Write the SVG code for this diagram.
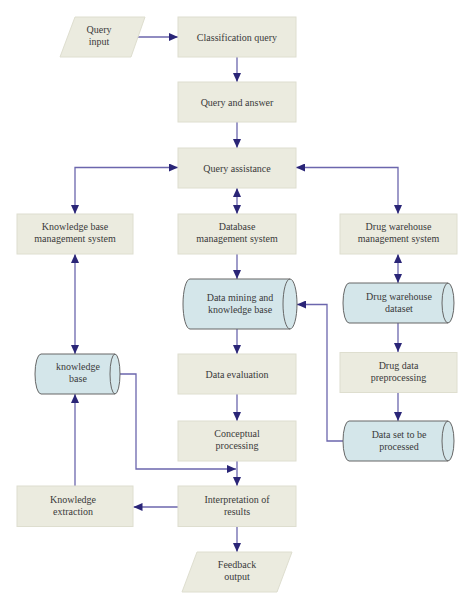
<svg xmlns="http://www.w3.org/2000/svg" width="474" height="609" viewBox="0 0 474 609">
<defs>
<marker id="ah" viewBox="0 0 9 8" refX="9" refY="4" markerWidth="9" markerHeight="8" markerUnits="userSpaceOnUse" orient="auto-start-reverse">
<path d="M0,0 L9,4 L0,8 Z" fill="#2a2577"/>
</marker>
</defs>
<style>
.box{fill:#ebebdf;stroke:#dedecf;stroke-width:1}
.cyl{fill:#d4e6ea;stroke:#666;stroke-width:1}
.cin{fill:none;stroke:#666;stroke-width:1}
text{font-family:"Liberation Serif","Times New Roman",serif;font-size:10px;fill:#3a3a3a;text-anchor:middle}
.c path{fill:none;stroke:#6b66ad;stroke-width:1.3}
</style>
<rect width="474" height="609" fill="#fff"/>
<g class="c" id="connectors">
<path d="M137,37 H178" marker-end="url(#ah)"/>
<path d="M237,57 V82" marker-end="url(#ah)"/>
<path d="M237,122 V148" marker-end="url(#ah)"/>
<path d="M237,214 V188" marker-start="url(#ah)" marker-end="url(#ah)"/>
<path d="M75,214 V167.5 H178" marker-start="url(#ah)" marker-end="url(#ah)"/>
<path d="M398,214 V167.5 H296" marker-start="url(#ah)" marker-end="url(#ah)"/>
<path d="M75,254 V354" marker-start="url(#ah)" marker-end="url(#ah)"/>
<path d="M237,254 V279" marker-end="url(#ah)"/>
<path d="M398,254 V283" marker-start="url(#ah)" marker-end="url(#ah)"/>
<path d="M237,329 V354" marker-end="url(#ah)"/>
<path d="M398,323 V352" marker-end="url(#ah)"/>
<path d="M398,392 V421" marker-end="url(#ah)"/>
<path d="M237,394 V421" marker-end="url(#ah)"/>
<path d="M343,441 H327 V304.5 H297" marker-end="url(#ah)"/>
<path d="M120,374 H136 V469 H236" marker-end="url(#ah)"/>
<path d="M237,461 V486" marker-end="url(#ah)"/>
<path d="M178,507 H133.5" marker-end="url(#ah)"/>
<path d="M75,486 V394" marker-end="url(#ah)"/>
<path d="M237,527 V552" marker-end="url(#ah)"/>
</g>
<g id="query-input"><polygon class="box" points="75,17 145,17 131,57 60,57"/><text x="99" y="33">Query</text><text x="99" y="45">input</text></g>
<g id="classification-query"><rect class="box" x="178" y="17" width="118" height="40"/><text x="237" y="40.5">Classification query</text></g>
<g id="query-and-answer"><rect class="box" x="178" y="82" width="118" height="40"/><text x="237" y="106">Query and answer</text></g>
<g id="query-assistance"><rect class="box" x="178" y="148" width="118" height="40"/><text x="237" y="172">Query assistance</text></g>
<g id="kbms"><rect class="box" x="17" y="214" width="116" height="40"/><text x="75" y="230">Knowledge base</text><text x="75" y="242">management system</text></g>
<g id="dbms"><rect class="box" x="178" y="214" width="118" height="40"/><text x="237" y="230">Database</text><text x="237" y="242">management system</text></g>
<g id="dwms"><rect class="box" x="340" y="214" width="117" height="40"/><text x="398.5" y="230">Drug warehouse</text><text x="398.5" y="242">management system</text></g>
<g id="data-mining"><path class="cyl" d="M190,279 H290 A7,25 0 0 1 290,329 H190 A7,25 0 0 1 190,279 Z"/><path class="cin" d="M290,279 A7,25 0 0 0 290,329"/><text x="240" y="301">Data mining and</text><text x="240" y="313">knowledge base</text></g>
<g id="dw-dataset"><path class="cyl" d="M349,283 H448 A6,20 0 0 1 448,323 H349 A6,20 0 0 1 349,283 Z"/><path class="cin" d="M448,283 A6,20 0 0 0 448,323"/><text x="399" y="300">Drug warehouse</text><text x="399" y="312">dataset</text></g>
<g id="knowledge-base"><path class="cyl" d="M41,354 H115 A5,20 0 0 1 115,394 H41 A6,20 0 0 1 41,354 Z"/><path class="cin" d="M115,354 A5,20 0 0 0 115,394"/><text x="78" y="370">knowledge</text><text x="78" y="382">base</text></g>
<g id="data-evaluation"><rect class="box" x="178" y="354" width="118" height="40"/><text x="237" y="378">Data evaluation</text></g>
<g id="drug-preprocessing"><rect class="box" x="340" y="352.5" width="117" height="40"/><text x="398.5" y="369">Drug data</text><text x="398.5" y="381">preprocessing</text></g>
<g id="conceptual"><rect class="box" x="178" y="421" width="118" height="40"/><text x="237" y="437">Conceptual</text><text x="237" y="449">processing</text></g>
<g id="dataset-processed"><path class="cyl" d="M349,421 H448 A6,20 0 0 1 448,461 H349 A6,20 0 0 1 349,421 Z"/><path class="cin" d="M448,421 A6,20 0 0 0 448,461"/><text x="399" y="437.5">Data set to be</text><text x="399" y="449.5">processed</text></g>
<g id="knowledge-extraction"><rect class="box" x="17" y="486" width="116" height="40.5"/><text x="73" y="502.5">Knowledge</text><text x="73" y="514.5">extraction</text></g>
<g id="interpretation"><rect class="box" x="178" y="486" width="118" height="40.5"/><text x="237" y="502.5">Interpretation of</text><text x="237" y="514.5">results</text></g>
<g id="feedback-output"><polygon class="box" points="197,552 292,552 277,592 182,592"/><text x="237" y="568">Feedback</text><text x="237" y="580">output</text></g>
</svg>
